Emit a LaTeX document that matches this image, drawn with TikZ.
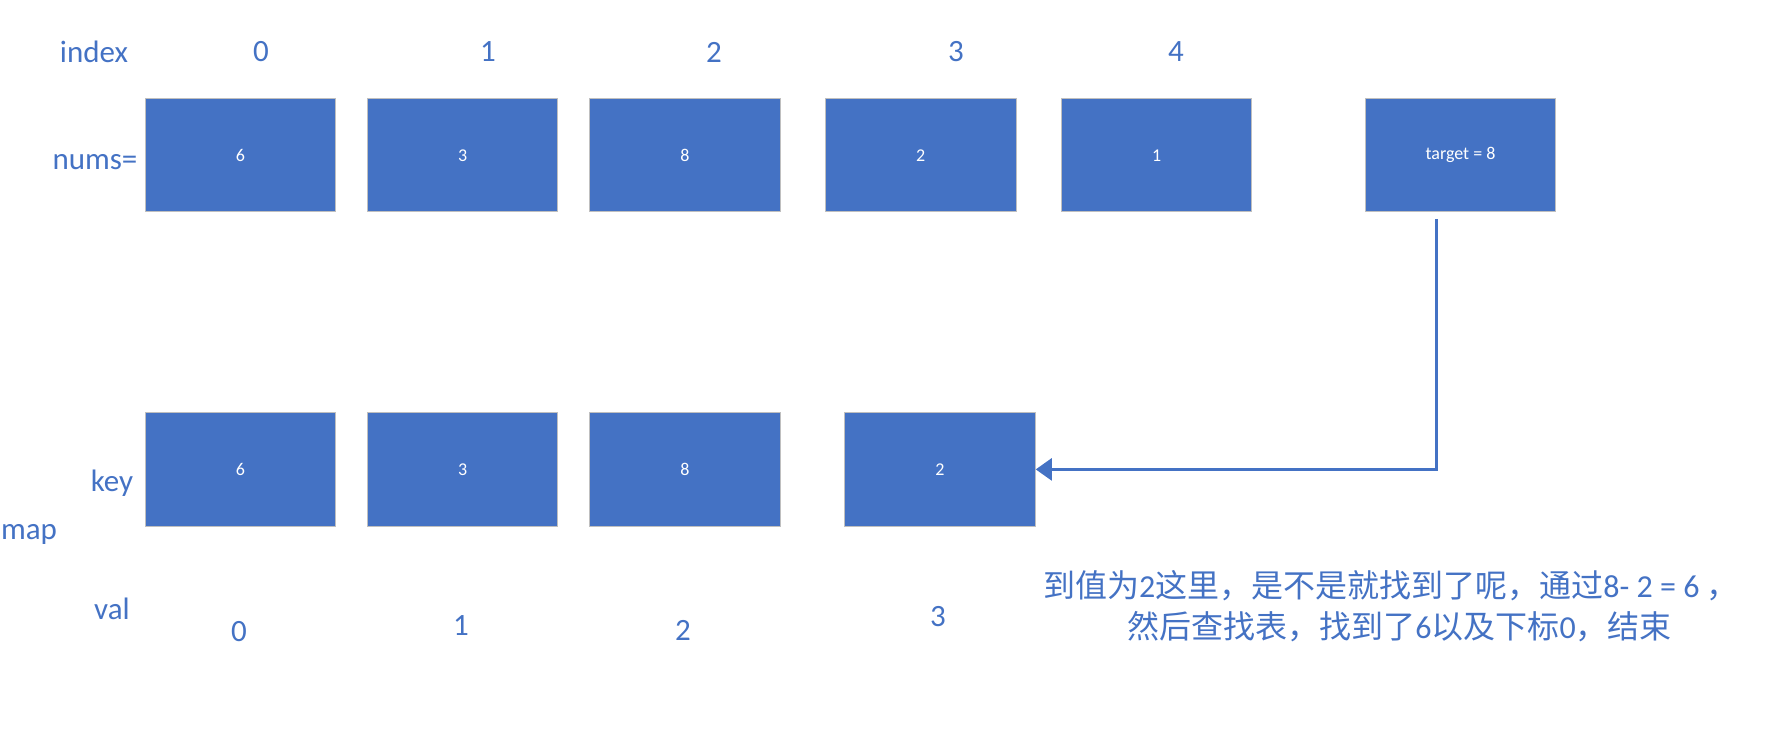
\documentclass[tikz,border=0pt]{standalone}
\usepackage{fontspec}
\setmainfont{Carlito}
\newfontfamily\cjk{Noto Sans CJK SC}
\usetikzlibrary{arrows.meta}
\definecolor{ob}{HTML}{4472C4}
\definecolor{ed}{HTML}{BFBFBF}
\begin{document}
\begin{tikzpicture}[x=1pt,y=-1pt,
  cell/.style={draw=ed, line width=1pt, fill=ob, minimum width=190.5pt, minimum height=113.4pt, inner sep=0pt, text=white, font=\fontsize{18}{20}\selectfont},
  lbl/.style={text=ob, font=\fontsize{31}{34}\selectfont, inner sep=0pt},
  link/.style={draw=ob, line width=2.5pt, -{Triangle[length=16pt,width=22pt]}}]
\useasboundingbox (0,0) rectangle (1778,735);
% index row
\node[lbl] (lidx) at (94,52) {index};
\node[lbl] (i0) at (261,52) {0};
\node[lbl] (i1) at (488,52) {1};
\node[lbl] (i2) at (714,52) {2};
\node[lbl] (i3) at (956,52) {3};
\node[lbl] (i4) at (1176,52) {4};
% nums row
\node[lbl] (lnums) at (95,162) {nums=};
\node[cell] (n0) at (240.4,155.3) {6};
\node[cell] (n1) at (462.6,155.3) {3};
\node[cell] (n2) at (684.9,155.3) {8};
\node[cell] (n3) at (920.8,155.3) {2};
\node[cell] (n4) at (1156.7,155.3) {1};
\node[cell] (tg) at (1460.5,155.3) {target = 8};
% map rows
\node[lbl] (lkey) at (112,483) {key};
\node[lbl] (lmap) at (29,534) {map};
\node[lbl] (lval) at (112,609) {val};
\node[cell] (m0) at (240.4,469.4) {6};
\node[cell] (m1) at (462.6,469.4) {3};
\node[cell] (m2) at (684.9,469.4) {8};
\node[cell] (m3) at (940.0,469.4) {2};
\node[lbl] (v0) at (239,632) {0};
\node[lbl] (v1) at (461,626) {1};
\node[lbl] (v2) at (683,630) {2};
\node[lbl] (v3) at (938,617) {3};
% arrow
\coordinate (s) at (1436.7,218.8);
\draw[link] (s) |- (m3.east);
% note
\node[text=ob, align=center, inner sep=0pt, font=\fontsize{32}{41}\selectfont] (note) at (1391,606)
 {{\cjk 到值为}2{\cjk 这里，是不是就找到了呢，通过}8- 2 = 6 {\cjk ，}\\
  \hspace*{17pt}{\cjk 然后查找表，找到了}6{\cjk 以及下标}0{\cjk ，结束}};
\end{tikzpicture}
\end{document}
